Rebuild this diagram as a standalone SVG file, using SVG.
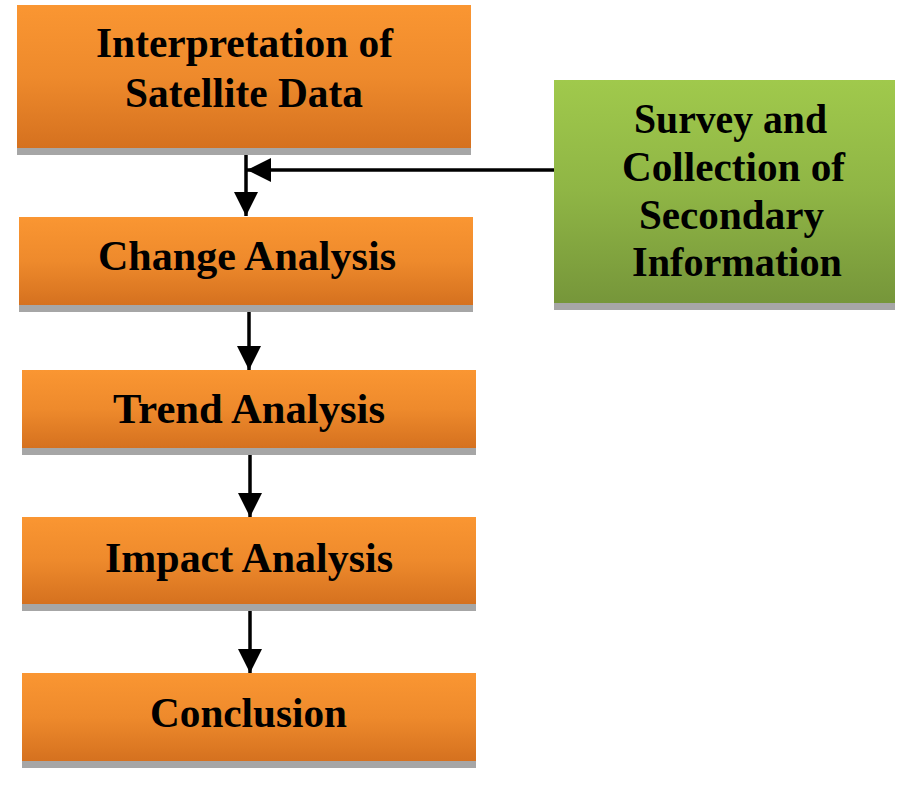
<svg xmlns="http://www.w3.org/2000/svg" width="897" height="785" viewBox="0 0 897 785">
<defs>
<linearGradient id="og" x1="0" y1="0" x2="0" y2="1">
<stop offset="0" stop-color="#FA9632"/>
<stop offset="0.5" stop-color="#EE8A2C"/>
<stop offset="1" stop-color="#D5711F"/>
</linearGradient>
<linearGradient id="gg" x1="0" y1="0" x2="0" y2="1">
<stop offset="0" stop-color="#A0C94C"/>
<stop offset="0.5" stop-color="#8FB545"/>
<stop offset="1" stop-color="#76963A"/>
</linearGradient>
<marker id="ah" markerUnits="userSpaceOnUse" markerWidth="25" markerHeight="25" refX="24" refY="12" orient="auto" viewBox="0 0 25 25">
<path d="M0,0 L24,12 L0,24 Z" fill="#000"/>
</marker>
<style>
.sh{fill:#A6A6A6}
.ob{fill:url(#og)}
.gb{fill:url(#gg)}
.t{font-family:"Liberation Serif","Times New Roman",serif;font-weight:bold;font-size:42px;fill:#000;text-anchor:middle}
.c{stroke:#000;stroke-width:3.5;fill:none;marker-end:url(#ah)}
</style>
</defs>
<rect width="897" height="785" fill="#fff"/>
<g id="connectors">
<line class="c" x1="246" y1="148" x2="246" y2="216"/>
<line class="c" x1="555" y1="170" x2="247" y2="170"/>
<line class="c" x1="249" y1="305" x2="249" y2="370"/>
<line class="c" x1="250" y1="455" x2="250" y2="517"/>
<line class="c" x1="250" y1="604" x2="250" y2="673"/>
</g>
<g id="n1">
<rect class="sh" x="17" y="148" width="454" height="7"/>
<rect class="ob" x="17" y="5" width="454" height="143"/>
<text class="t" x="244.5" y="57" textLength="297" lengthAdjust="spacingAndGlyphs">Interpretation of</text>
<text class="t" x="244" y="107" textLength="238" lengthAdjust="spacingAndGlyphs">Satellite Data</text>
</g>
<g id="n2">
<rect class="sh" x="19" y="305" width="454" height="7"/>
<rect class="ob" x="19" y="217" width="454" height="88"/>
<text class="t" x="247" y="270" textLength="298" lengthAdjust="spacingAndGlyphs">Change Analysis</text>
</g>
<g id="n3">
<rect class="sh" x="22" y="448" width="454" height="7"/>
<rect class="ob" x="22" y="370" width="454" height="78"/>
<text class="t" x="249" y="423" textLength="272" lengthAdjust="spacingAndGlyphs">Trend Analysis</text>
</g>
<g id="n4">
<rect class="sh" x="22" y="604" width="454" height="7"/>
<rect class="ob" x="22" y="517" width="454" height="87"/>
<text class="t" x="249" y="572" textLength="288" lengthAdjust="spacingAndGlyphs">Impact Analysis</text>
</g>
<g id="n5">
<rect class="sh" x="22" y="761" width="454" height="7"/>
<rect class="ob" x="22" y="673" width="454" height="88"/>
<text class="t" x="248.5" y="727" textLength="197" lengthAdjust="spacingAndGlyphs">Conclusion</text>
</g>
<g id="n6">
<rect class="sh" x="554" y="303" width="341" height="7"/>
<rect class="gb" x="554" y="80" width="341" height="223"/>
<text class="t" x="730.5" y="133" textLength="193" lengthAdjust="spacingAndGlyphs">Survey and</text>
<text class="t" x="733.5" y="181" textLength="223" lengthAdjust="spacingAndGlyphs">Collection of</text>
<text class="t" x="731.5" y="229" textLength="185" lengthAdjust="spacingAndGlyphs">Secondary</text>
<text class="t" x="737" y="276" textLength="210" lengthAdjust="spacingAndGlyphs">Information</text>
</g>
</svg>
